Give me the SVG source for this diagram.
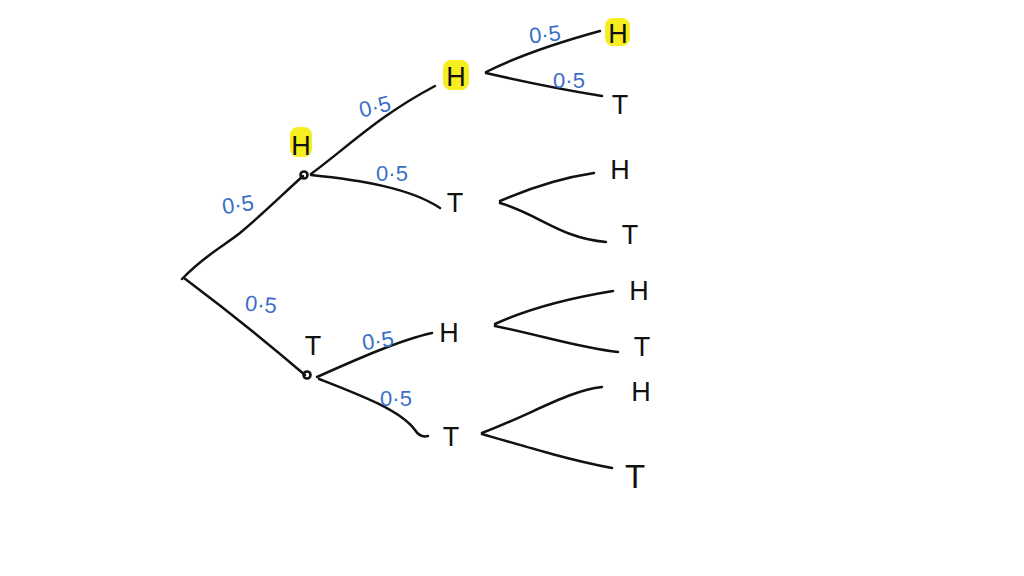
<svg xmlns="http://www.w3.org/2000/svg" width="1024" height="576" viewBox="0 0 1024 576">
<style>
.e{fill:none;stroke:#111;stroke-width:2.5;stroke-linecap:round;stroke-linejoin:round}
.l{font-family:"Liberation Sans",Arial,sans-serif;font-size:22px;fill:#3b6fc6}
.n{font-family:"Liberation Sans",Arial,sans-serif;font-size:27px;fill:#111}
.hl{fill:#f6ee1e}
.dot{fill:none;stroke:#111;stroke-width:2.6}
</style>
<rect width="1024" height="576" fill="#ffffff"/>
<g id="connectors">
<path class="e" d="M182,279 C205,255 225,245 240,233 C265,212 285,192 303,176"/>
<path class="e" d="M184,278 C220,305 270,345 305,375"/>
<path class="e" d="M311,174 C350,145 380,115 435,86"/>
<path class="e" d="M311,175 C360,180 410,188 440,208"/>
<path class="e" d="M317,377 C355,360 400,340 432,333"/>
<path class="e" d="M319,379 C360,395 400,410 415,430 Q420,438 428,436"/>
<path class="e" d="M486,72 C520,55 560,42 600,31"/>
<path class="e" d="M486,73 C525,82 565,90 602,96"/>
<path class="e" d="M500,201 C530,188 560,178 594,173"/>
<path class="e" d="M500,203 C540,215 560,238 606,242"/>
<path class="e" d="M495,324 C530,308 570,298 613,291"/>
<path class="e" d="M495,326 C540,335 580,348 618,352"/>
<path class="e" d="M482,433 C530,415 570,390 602,387"/>
<path class="e" d="M482,434 C530,448 570,460 612,468"/>
</g>
<g id="n-H1">
<rect class="hl" x="290" y="127" width="22" height="30" rx="8"/>
<text class="n" x="301" y="155" text-anchor="middle">H</text>
<circle class="dot" cx="304" cy="175" r="3.5"/>
</g>
<g id="n-T1">
<text class="n" x="313" y="355" text-anchor="middle">T</text>
<circle class="dot" cx="307" cy="375" r="3.5"/>
</g>
<g id="n-HH">
<rect class="hl" x="443" y="60" width="26" height="30" rx="8"/>
<text class="n" x="456" y="86" text-anchor="middle">H</text>
</g>
<g id="n-HT"><text class="n" x="455" y="212" text-anchor="middle">T</text></g>
<g id="n-TH"><text class="n" x="449" y="342" text-anchor="middle">H</text></g>
<g id="n-TT"><text class="n" x="451" y="446" text-anchor="middle">T</text></g>
<g id="n-HHH">
<rect class="hl" x="605" y="18" width="25" height="28" rx="8"/>
<text class="n" x="618" y="43" text-anchor="middle">H</text>
</g>
<g id="n-HHT"><text class="n" x="620" y="114" text-anchor="middle">T</text></g>
<g id="n-HTH"><text class="n" x="620" y="179" text-anchor="middle">H</text></g>
<g id="n-HTT"><text class="n" x="630" y="244" text-anchor="middle">T</text></g>
<g id="n-THH"><text class="n" x="639" y="300" text-anchor="middle">H</text></g>
<g id="n-THT"><text class="n" x="642" y="356" text-anchor="middle">T</text></g>
<g id="n-TTH"><text class="n" x="641" y="401" text-anchor="middle">H</text></g>
<g id="n-TTT"><text class="n" x="635" y="488" text-anchor="middle" style="font-size:33px">T</text></g>
<g id="labels">
<text class="l" x="238" y="212" text-anchor="middle" transform="rotate(-8 238 205)">0·5</text>
<text class="l" x="261" y="312" text-anchor="middle" transform="rotate(5 261 305)">0·5</text>
<text class="l" x="375" y="114" text-anchor="middle" transform="rotate(-14 375 107)">0·5</text>
<text class="l" x="392" y="181" text-anchor="middle">0·5</text>
<text class="l" x="378" y="348" text-anchor="middle" transform="rotate(-8 378 341)">0·5</text>
<text class="l" x="396" y="406" text-anchor="middle">0·5</text>
<text class="l" x="545" y="42" text-anchor="middle" transform="rotate(-6 545 35)">0·5</text>
<text class="l" x="569" y="88" text-anchor="middle">0·5</text>
</g>
</svg>
